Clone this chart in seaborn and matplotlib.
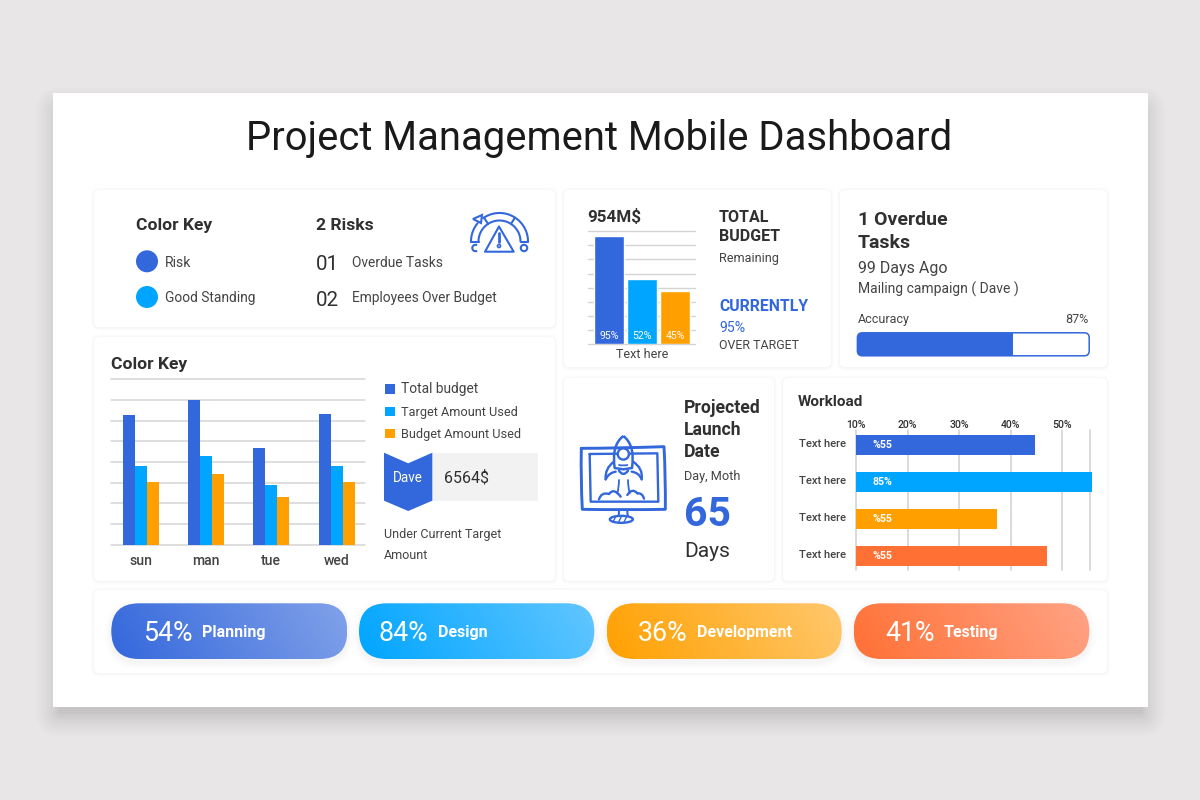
import numpy as np
import pandas as pd
import matplotlib
matplotlib.use("Agg")
import matplotlib.pyplot as plt
from matplotlib.patches import FancyBboxPatch, Rectangle, Circle, Polygon, PathPatch, Arc, Ellipse
from matplotlib.path import Path
from matplotlib.colors import to_rgb
from matplotlib.transforms import ScaledTranslation
import seaborn as sns

# ---------- data ----------
BLUE, CYAN, ORANGE, RED = "#3367DC", "#00A5FF", "#FFA000", "#FF7035"

days = ["sun", "man", "tue", "wed"]
series_names = ["Total budget", "Target Amount Used", "Budget Amount Used"]
total_budget = [62.5, 70, 47, 63]
target_used = [38.3, 43, 28.7, 38.3]
budget_used = [30.2, 34.3, 23, 30.5]

budget_labels = ["95%", "52%", "45%"]
budget_values = [95.8, 58, 46.8]

workload_rows = ["Text here", "Text here ", "Text here  ", "Text here   "]
workload_values = [44.8, 55.7, 37.4, 47.1]
workload_labels = ["%55", "85%", "%55", "%55"]
workload_ticks = [10, 20, 30, 40, 50]

accuracy_fill = [67]

pill_pct = ["54%", "84%", "36%", "41%"]
pill_names = ["Planning", "Design", "Development", "Testing"]

# ---------- setup ----------
sns.set_theme(style="white")
plt.rcParams["font.family"] = ["Roboto", "DejaVu Sans"]
TXT, BODY = "#303030", "#444444"
W, H = 1200, 800
fig = plt.figure(figsize=(12, 8), dpi=100, facecolor="#E8E6E7")
bg = fig.add_axes([0, 0, 1, 1], zorder=0)
bg.set_xlim(0, W)
bg.set_ylim(H, 0)
bg.axis("off")


def px(size):
    return size * 0.72


def T(x, y, s, size, color=BODY, weight="normal", ha="left", va="baseline", **kw):
    return bg.text(x, y, s, fontsize=px(size), color=color, fontweight=weight, ha=ha, va=va, zorder=20, **kw)


def rrect(x0, y0, x1, y1, r, **kw):
    p = FancyBboxPatch((x0, y0), x1 - x0, y1 - y0, boxstyle=f"round,pad=0,rounding_size={r}", **kw)
    bg.add_patch(p)
    return p


def soft_shadow(x0, y0, x1, y1, r, spread, dy, alpha, n=14, color="#000000"):
    for i in range(n):
        g = spread * (1 - i / n) ** 1.5
        rrect(x0 - g, y0 - g + dy, x1 + g, y1 + g + dy, r + g, fc=color, ec="none", alpha=alpha, zorder=2)


def inset(x0, y0, x1, y1, zorder=5):
    ax = fig.add_axes([x0 / W, 1 - y1 / H, (x1 - x0) / W, (y1 - y0) / H], zorder=zorder)
    ax.patch.set_alpha(0)
    return ax


# slide
soft_shadow(59, 99, 1142, 701, 2, 24, 12, 0.0035, n=34)
bg.add_patch(Rectangle((53, 93), 1095, 614, fc="white", ec="none", zorder=3))

# cards
cards = [
    (94, 190, 555, 327), (94, 337, 555, 581), (564, 190, 831, 367), (840, 190, 1107, 367),
    (564, 378, 774, 581), (783, 378, 1107, 581), (94, 590, 1107, 673),
]
for c in cards:
    for g, a in ((3, 0.008), (2, 0.011), (1, 0.016)):
        rrect(c[0] - g, c[1] - g + 0.5, c[2] + g, c[3] + g + 0.5, 5 + g, fc="black", ec="none", alpha=a, zorder=4)
    rrect(*c, 5, fc="white", ec="none", zorder=5)

T(599, 150, "Project Management Mobile Dashboard", 40, color="#1A1A1A", ha="center")

# ---------- card 1 ----------
T(136, 230, "Color Key", 17.5, TXT, "bold")
bg.add_patch(Circle((147, 261.3), 11, fc=BLUE, ec="none", zorder=10))
bg.add_patch(Circle((147, 297), 11, fc=CYAN, ec="none", zorder=10))
T(165, 266.7, "Risk", 14)
T(165, 302.3, "Good Standing", 13.8)
T(316, 230, "2 Risks", 17.5, TXT, "bold")
T(315.5, 269.5, "01", 20.5, TXT)
T(315.5, 305.5, "02", 20.5, TXT)
T(352, 266.7, "Overdue Tasks", 13.7)
T(352, 302.3, "Employees Over Budget", 13.7)

# gauge icon
ICON = dict(color=BLUE, lw=1.5, zorder=12, solid_capstyle="round")


def arc_line(cx, cy, r, a0, a1):
    t = np.radians(np.linspace(a0, a1, 40))
    bg.plot(cx + r * np.cos(t), cy - r * np.sin(t), **ICON)


gx, gy = 499.5, 241.5
arc_line(gx, gy, 28.5, 0, 125)
arc_line(gx, gy, 28.5, 140, 180)
arc_line(gx, gy, 21, 0, 180)
bg.plot([471, 478.5], [241.5, 241.5], **ICON)
bg.plot([520.5, 528], [241.5, 241.5], **ICON)
for a in (57, 123):
    t = np.radians(a)
    bg.plot([gx + 21 * np.cos(t), gx + 28.5 * np.cos(t)], [gy - 21 * np.sin(t), gy - 28.5 * np.sin(t)], **ICON)
bg.add_patch(Polygon([(499, 226.5), (485, 251.7), (513.7, 251.7)], closed=True, fc="white", ec=BLUE, lw=1.5, joinstyle="round", zorder=11))
bg.add_patch(Polygon([(473, 219), (482, 215), (481, 223)], closed=True, fc="white", ec=BLUE, lw=1.5, zorder=12))
bg.plot([499, 499], [233, 241.5], color=BLUE, lw=2, zorder=12, solid_capstyle="round")
bg.add_patch(Circle((499, 246), 1.5, fc="white", ec=BLUE, lw=1.2, zorder=12))
bg.add_patch(Circle((524, 248), 3.2, fc="white", ec=BLUE, lw=1.5, zorder=12))
bg.add_patch(Arc((475.5, 248), 6.4, 6.4, theta1=60, theta2=300, ec=BLUE, lw=1.5, zorder=12))

# ---------- card 2 : grouped bars ----------
T(110.7, 369.3, "Color Key", 17.5, TXT, "bold")
df = pd.DataFrame({
    "day": days * 3,
    "value": total_budget + target_used + budget_used,
    "series": sum([[n] * len(days) for n in series_names], []),
})
ax1 = inset(110.7, 379.3, 365.3, 544.7)
sns.barplot(data=df, x="day", y="value", hue="series", palette=[BLUE, CYAN, ORANGE],
            saturation=1, width=0.55, legend=False, ax=ax1, zorder=3, linewidth=0)
ax1.set_xlim(-0.46, 3.44)
ax1.set_ylim(0, 80)
ax1.set_yticks(np.arange(0, 81, 10))
ax1.set_yticklabels([])
ax1.set_axisbelow(True)
ax1.grid(axis="y", color="#D4D4D4", lw=1.1, clip_on=False)
for g in ax1.get_ygridlines():
    g.set_clip_on(False)
ax1.set_xlabel("")
ax1.set_ylabel("")
ax1.tick_params(axis="x", length=0, pad=7, labelsize=px(14), labelcolor=BODY)
for l in ax1.get_xticklabels():
    l.set_fontweight("medium")
sns.despine(ax=ax1, left=True, bottom=True)

for y, c, n, fs in zip((384, 406.5, 428.5), (BLUE, CYAN, ORANGE), series_names, (13.8, 12.8, 12.8)):
    bg.add_patch(Rectangle((385.3, y), 9.7, 9.7, fc=c, ec="none", zorder=10))
    T(401, y + 9.3, n, fs)

bg.add_patch(Rectangle((432, 452.7), 106.3, 48, fc="#F2F2F2", ec="none", zorder=9))
bg.add_patch(Polygon([(384, 452.7), (408.2, 463.3), (432.3, 452.7), (432.3, 500.7), (408.2, 511), (384, 500.7)],
                     closed=True, fc=BLUE, ec="none", zorder=10))
T(408.2, 481.5, "Dave", 13.5, "white", ha="center")
T(444, 482, "6564$", 16, TXT)
T(384, 538, "Under Current Target", 12.5)
T(384, 559, "Amount", 12.5)

# ---------- card 3 : three bars ----------
T(587, 222.3, "954M$", 17, TXT, "bold")
ax2 = inset(588.3, 231.3, 695.3, 344)
sns.barplot(x=budget_labels, y=budget_values, hue=budget_labels, palette=[BLUE, CYAN, ORANGE],
            saturation=1, width=0.88, legend=False, ax=ax2, zorder=3)
ax2.set_xlim(-0.627, 2.615)
ax2.set_ylim(0, 100)
ax2.set_yticks(np.arange(0, 101, 12.5))
ax2.set_yticklabels([])
ax2.set_xticks([])
ax2.set_axisbelow(True)
ax2.grid(axis="y", color="#D4D4D4", lw=1.0)
for g in ax2.get_ygridlines():
    g.set_clip_on(False)
ax2.set_ylabel("")
ax2.set_xlabel("Text here", fontsize=px(12.5), color=BODY, labelpad=3)
sns.despine(ax=ax2, left=True, bottom=True)
for i, lab in enumerate(budget_labels):
    ax2.text(i, 4.5, lab, color="white", fontsize=px(10.5), ha="center", va="baseline", zorder=6)

T(719, 221.7, "TOTAL", 16, TXT, "bold")
T(719, 240.7, "BUDGET", 16, TXT, "bold")
T(719, 261.7, "Remaining", 12.7)
T(719, 310.7, "CURRENTLY", 15.8, BLUE, "bold")
T(719, 331.7, "95%", 14, BLUE)
T(719, 349.3, "OVER TARGET", 12.4)

# ---------- card 4 ----------
T(858, 224.7, "1 Overdue", 19.5, TXT, "bold")
T(858, 248.3, "Tasks", 19.5, TXT, "bold")
T(858, 272.7, "99 Days Ago", 16)
T(858, 293.7, "Mailing campaign ( Dave )", 13.9)
T(858, 322.7, "Accuracy", 12.5)
T(1089, 322.7, "87%", 12.5, ha="right")
frame = rrect(857.4, 332.8, 1089.2, 355.8, 5, fc="white", ec=BLUE, lw=1.1, zorder=10)
ax_p = inset(857.4, 332.8, 1089.2, 355.8, zorder=6)
sns.barplot(x=accuracy_fill, y=["Accuracy"], color=BLUE, saturation=1, width=1, ax=ax_p, linewidth=0)
ax_p.set_xlim(0, 100)
ax_p.set_ylim(0.5, -0.5)
ax_p.axis("off")
clip = FancyBboxPatch((857.4, 332.8), 231.8, 23, boxstyle="round,pad=0,rounding_size=5", transform=bg.transData)
for b in ax_p.patches:
    b.set_clip_path(clip)

# ---------- card 5 : rocket ----------
T(684, 413.3, "Projected", 17.6, TXT, "bold")
T(684, 435, "Launch", 17.6, TXT, "bold")
T(684, 456.7, "Date", 17.6, TXT, "bold")
T(684, 480, "Day, Moth", 12.8)
T(684, 526, "65", 41, BLUE, "bold")
T(684, 556.7, "Days", 21, TXT)


def zr(pts):
    return [(564 + x / 3, 380 + y / 3) for x, y in pts]


def sketch(pts, curved=True, lw=1.7):
    pts = zr(pts)
    if curved and (len(pts) % 2 == 1):
        codes = [Path.MOVETO] + [Path.CURVE3] * (len(pts) - 1)
    else:
        codes = [Path.MOVETO] + [Path.LINETO] * (len(pts) - 1)
    bg.add_patch(PathPatch(Path(pts, codes), fc="none", ec=BLUE, lw=lw, capstyle="round", joinstyle="round", zorder=12))


sketch([(52, 205), (150, 205), (300, 200), (305, 290), (304, 388), (180, 390), (55, 388), (50, 300), (52, 205)], lw=2.1)
sketch([(77, 222), (280, 220), (283, 365), (80, 365), (77, 222)], curved=False)
# rocket body, white so the frame is hidden behind it
body = Path(zr([(178, 168), (142, 195), (152, 264), (178, 268), (204, 264), (214, 195), (178, 168)]),
            [Path.MOVETO, Path.CURVE3, Path.CURVE3, Path.LINETO, Path.LINETO, Path.CURVE3, Path.CURVE3])
bg.add_patch(PathPatch(body, fc="white", ec=BLUE, lw=1.8, zorder=11.5, joinstyle="round"))
bg.add_patch(Circle(zr([(178, 222)])[0], 5.6, fc="white", ec=BLUE, lw=1.7, zorder=12))
sketch([(165, 255), (178, 258), (190, 255)], lw=1.3)
sketch([(150, 245), (122, 265), (125, 298)])
sketch([(125, 298), (135, 278), (155, 275)])
sketch([(207, 245), (238, 265), (233, 298)])
sketch([(233, 298), (225, 278), (203, 275)])
sketch([(165, 272), (178, 292), (192, 272)])
sketch([(165, 300), (165, 320), (160, 340)], lw=1.3)
sketch([(192, 300), (192, 320), (197, 340)], lw=1.3)
sketch([(105, 358), (112, 335), (135, 342)])
sketch([(135, 342), (150, 322), (170, 350)])
sketch([(190, 345), (205, 322), (220, 340)])
sketch([(220, 340), (235, 338), (240, 356)])
sketch([(165, 392), (165, 402), (163, 412)], lw=1.5)
sketch([(190, 392), (190, 402), (192, 412)], lw=1.5)
bg.add_patch(Ellipse(zr([(172, 418)])[0], 23, 7, fc="white", ec=BLUE, lw=1.7, zorder=12))
for xx in (155, 172, 188):
    sketch([(xx, 410), (xx - 4, 418), (xx - 8, 426)], lw=1.0)

# ---------- card 6 : workload ----------
T(797.7, 406, "Workload", 15.2, TXT, "bold")
ax3 = inset(856, 430, 1091.5, 570)
sns.barplot(x=workload_values, y=workload_rows, hue=workload_rows, palette=[BLUE, CYAN, ORANGE, RED],
            saturation=1, width=0.54, legend=False, ax=ax3, zorder=3, linewidth=0)
ax3.set_xlim(10, 55.7)
ax3.set_ylim(3.39, -0.4)
ax3.set_xticks(workload_ticks + [55.5])
ax3.set_xticklabels([f"{v}%" for v in workload_ticks] + [""], fontsize=px(10.5), color=TXT, fontweight="medium")
ax3.xaxis.tick_top()
ax3.tick_params(axis="x", length=0, pad=0)
ax3.tick_params(axis="y", length=0, pad=41, labelsize=px(11.2), labelcolor=BODY)
ax3.set_yticks(range(len(workload_rows)))
ax3.set_yticklabels(["Text here"] * 4, ha="left", fontweight="medium")
shift = ScaledTranslation(0, 1 / 72, fig.dpi_scale_trans)
for l in ax3.get_yticklabels():
    l.set_transform(l.get_transform() + shift)
ax3.set_axisbelow(True)
ax3.grid(axis="x", color="#D0D0D0", lw=1.1)
for g in ax3.get_xgridlines():
    g.set_clip_on(False)
ax3.set_xlabel("")
ax3.set_ylabel("")
sns.despine(ax=ax3, left=True, bottom=True, top=True, right=True)
for i, lab in enumerate(workload_labels):
    ax3.text(15.2, i, lab, color="white", fontsize=px(10.5), fontweight="bold", ha="center", va="center", zorder=6)

# ---------- pills ----------
pills = [
    (111.3, 347.3, BLUE, "#82A2E9", 143.5, 202.3),
    (359, 594.3, CYAN, "#62C6FF", 379, 438),
    (606.7, 841.7, ORANGE, "#FFC86E", 638, 697.3),
    (853.7, 1089.3, RED, "#FFA385", 885, 944),
]
for (x0, x1, c0, c1, tx, nx), pct, name in zip(pills, pill_pct, pill_names):
    y0, y1 = 603.3, 659
    for g, a in ((7, 0.006), (5, 0.008), (3, 0.01), (1.5, 0.012)):
        rrect(x0 - g, y0 - g + 3, x1 + g, y1 + g + 3, 28 + g, fc="black", ec="none", alpha=a, zorder=6)
    patch = rrect(x0, y0, x1, y1, 27.8, fc="none", ec="none", zorder=7)
    u, v = np.meshgrid(np.linspace(0, 1, 256), np.linspace(0, 1, 64))
    t = np.clip(0.88 * u + 0.12 * (1 - v), 0, 1)[..., None]
    img = np.array(to_rgb(c0)) * (1 - t) + np.array(to_rgb(c1)) * t
    im = bg.imshow(img, extent=(x0, x1, y1, y0), aspect="auto", zorder=8, interpolation="bilinear")
    im.set_clip_path(patch)
    T(tx, 640.7, pct, 26.7, "white")
    T(nx, 637.5, name, 16, "white", "bold")
bg.set_xlim(0, W)
bg.set_ylim(H, 0)

fig.savefig("out.png", dpi=100, facecolor=fig.get_facecolor())
